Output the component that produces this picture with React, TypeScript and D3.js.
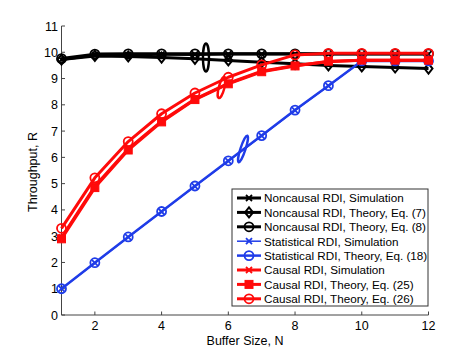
import React from "react";
import * as d3 from "d3";

const xs = [1, 2, 3, 4, 5, 6, 7, 8, 9, 10, 11, 12];
const xTicks = [2, 4, 6, 8, 10, 12];
const yTicks = [0, 1, 2, 3, 4, 5, 6, 7, 8, 9, 10, 11];

const ncSim = [9.72, 9.9, 9.9, 9.92, 9.92, 9.93, 9.93, 9.93, 9.93, 9.93, 9.93, 9.93];
const ncEq7 = [9.72, 9.86, 9.84, 9.8, 9.75, 9.69, 9.62, 9.56, 9.5, 9.46, 9.42, 9.38];
const ncEq8 = [9.76, 9.93, 9.94, 9.94, 9.94, 9.94, 9.94, 9.94, 9.94, 9.94, 9.94, 9.94];
const stSim = [1.0, 1.98, 2.96, 3.93, 4.9, 5.86, 6.82, 7.79, 8.72, 9.66, 9.66, 9.66];
const stEq18 = [1.0, 1.99, 2.97, 3.94, 4.91, 5.87, 6.83, 7.8, 8.73, 9.67, 9.67, 9.67];
const caSim = [2.95, 4.9, 6.32, 7.38, 8.22, 8.82, 9.28, 9.5, 9.64, 9.7, 9.7, 9.7];
const caEq25 = [2.9, 4.85, 6.28, 7.35, 8.2, 8.8, 9.26, 9.48, 9.66, 9.7, 9.7, 9.7];
const caEq26 = [3.3, 5.22, 6.6, 7.66, 8.45, 9.05, 9.52, 9.9, 9.96, 9.96, 9.96, 9.96];

const BLACK = "#000000";
const BLUE = "#1f3ce8";
const RED = "#ff0a0a";

type Series = { name: string; values: number[]; color: string; marker: string; width: number };

const series: Series[] = [
  { name: "Noncausal RDI, Simulation", values: ncSim, color: BLACK, marker: "x", width: 3 },
  { name: "Noncausal RDI, Theory, Eq. (7)", values: ncEq7, color: BLACK, marker: "d", width: 3 },
  { name: "Noncausal RDI, Theory, Eq. (8)", values: ncEq8, color: BLACK, marker: "o", width: 3 },
  { name: "Statistical RDI, Simulation", values: stSim, color: BLUE, marker: "x", width: 1.5 },
  { name: "Statistical RDI, Theory, Eq. (18)", values: stEq18, color: BLUE, marker: "o", width: 2.5 },
  { name: "Causal RDI, Simulation", values: caSim, color: RED, marker: "x", width: 3 },
  { name: "Causal RDI, Theory, Eq. (25)", values: caEq25, color: RED, marker: "s", width: 3 },
  { name: "Causal RDI, Theory, Eq. (26)", values: caEq26, color: RED, marker: "o", width: 3 },
];

const FONT = "'Liberation Sans', Arial, Helvetica, sans-serif";

function Marker({ type, x, y, color }: { type: string; x: number; y: number; color: string }) {
  if (type === "o")
    return <circle cx={x} cy={y} r={4.5} fill="none" stroke={color} strokeWidth={1.8} />;
  if (type === "s")
    return <rect x={x - 4} y={y - 4} width={8} height={8} fill={color} stroke={color} strokeWidth={1} />;
  if (type === "d")
    return (
      <path d={`M${x},${y - 5}L${x + 4},${y}L${x},${y + 5}L${x - 4},${y}Z`} fill="none" stroke={color} strokeWidth={2} />
    );
  return (
    <path d={`M${x - 3},${y - 3}L${x + 3},${y + 3}M${x - 3},${y + 3}L${x + 3},${y - 3}`} stroke={color} strokeWidth={1.8} />
  );
}

export default function App() {
  const W = 474, H = 355;
  const x = d3.scaleLinear().domain([1, 12]).range([61.5, 428.5]);
  const y = d3.scaleLinear().domain([0, 11]).range([315, 26]);
  const line = d3.line<number>().x((_, i) => x(xs[i])).y((v) => y(v));

  const legX = 232, legY = 189, legW = 196, legH = 117;
  const rowY = (i: number) => legY + 9 + i * 14.4;

  const ellipses = [
    { cx: 5.33, cy: 9.8, rx: 3, ry: 14, rot: 0, color: BLACK },
    { cx: 5.8, cy: 8.66, rx: 2.8, ry: 11, rot: 15, color: RED },
    { cx: 6.44, cy: 6.32, rx: 2.5, ry: 14, rot: 18, color: BLUE },
  ];

  return (
    <svg width={W} height={H} style={{ position: "absolute", left: 0, top: 0, background: "#fff" }} fontFamily={FONT}>
      <rect width={W} height={H} fill="#fff" />
      {/* axes */}
      <line x1={x(1)} x2={x(12)} y1={y(0)} y2={y(0)} stroke="#444" strokeWidth={1} />
      <line x1={x(1)} x2={x(1)} y1={y(0)} y2={y(11)} stroke="#444" strokeWidth={1} />
      {xTicks.map((t) => (
        <g key={"xt" + t}>
          <line x1={x(t)} x2={x(t)} y1={y(0)} y2={y(0) - 3.5} stroke="#444" />
          <text x={x(t)} y={330} fontSize={12.5} textAnchor="middle" fill="#000">{t}</text>
        </g>
      ))}
      {yTicks.map((t) => (
        <g key={"yt" + t}>
          <line x1={x(1)} x2={x(1) + 3.5} y1={y(t)} y2={y(t)} stroke="#444" />
          <text x={58} y={y(t) + 4.5} fontSize={12.5} textAnchor="end" fill="#000">{t}</text>
        </g>
      ))}
      <text x={245} y={345} fontSize={12.5} textAnchor="middle">Buffer Size, N</text>
      <text transform={`translate(37,172) rotate(-90)`} fontSize={12.5} textAnchor="middle">Throughput, R</text>

      {/* series */}
      {series.map((s, si) => (
        <g key={"s" + si}>
          <path d={line(s.values) || ""} fill="none" stroke={s.color} strokeWidth={s.width} strokeLinejoin="round" />
          {s.values.map((v, i) => (
            <Marker key={i} type={s.marker} x={x(xs[i])} y={y(v)} color={s.color} />
          ))}
        </g>
      ))}

      {ellipses.map((e, i) => (
        <ellipse
          key={"e" + i}
          cx={0}
          cy={0}
          rx={e.rx}
          ry={e.ry}
          transform={`translate(${x(e.cx)},${y(e.cy)}) rotate(${e.rot})`}
          fill="none"
          stroke={e.color}
          strokeWidth={2.4}
        />
      ))}

      {/* legend */}
      <rect x={legX} y={legY} width={legW} height={legH} fill="#fff" stroke="#333" strokeWidth={1} />
      {series.map((s, i) => (
        <g key={"l" + i}>
          <line x1={237} x2={261} y1={rowY(i)} y2={rowY(i)} stroke={s.color} strokeWidth={s.width} />
          <Marker type={s.marker} x={249} y={rowY(i)} color={s.color} />
          <text x={264} y={rowY(i) + 4.3} fontSize={11.7} fill="#000">{s.name}</text>
        </g>
      ))}
    </svg>
  );
}
